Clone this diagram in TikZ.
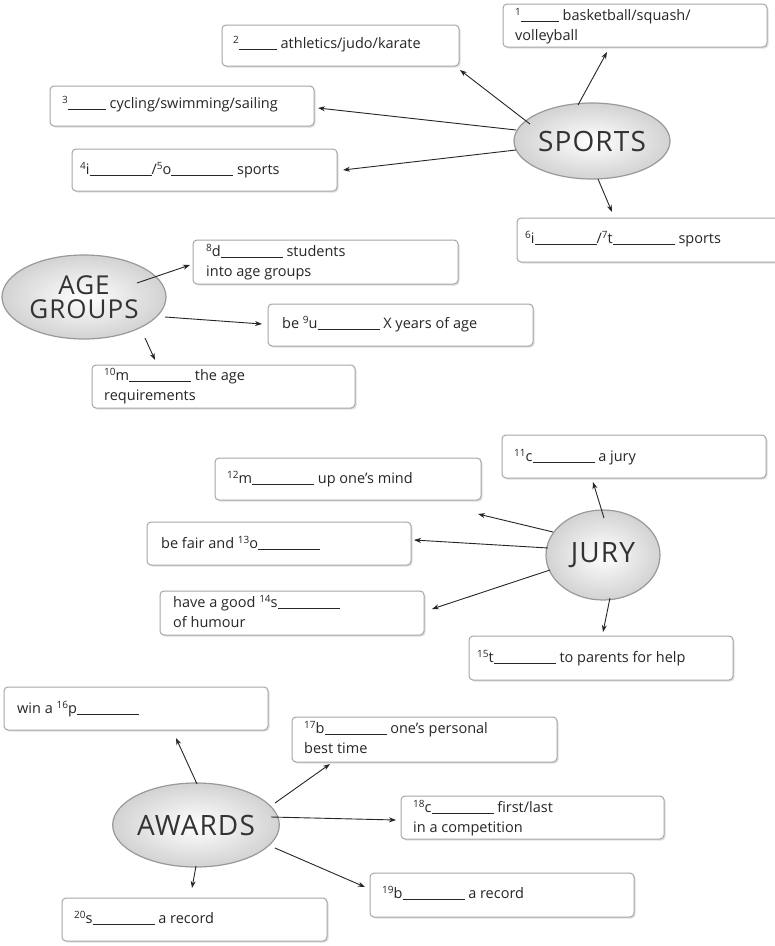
\documentclass[tikz,border=0pt]{standalone}
\usepackage{fontspec}
\setmainfont{Open Sans}
\usetikzlibrary{shadows,arrows.meta,shapes.geometric}
\newcommand{\bl}[1]{\rule[-1pt]{#1pt}{0.6pt}}
\newcommand{\sq}[1]{\raisebox{5pt}{\fontsize{10}{10}\selectfont #1}}
\begin{document}
\begin{tikzpicture}[x=1pt,y=-1pt,
  box/.style={draw=gray!70,line width=1pt,rounded corners=4pt,fill=white,drop shadow={shadow xshift=1.5pt,shadow yshift=-1.5pt,opacity=0.25}},
  txt/.style={anchor=north west,align=left,font=\fontsize{14.5}{20.5}\selectfont,inner sep=0pt,text=black!85},
  ell/.style={draw=gray!80,line width=1.2pt,ellipse,inner sep=0pt,outer color=gray!35,inner color=white,font=\fontsize{28}{28}\selectfont\addfontfeature{LetterSpace=4},text=black!80,align=center},
  arr/.style={-{Stealth[length=7pt,width=5pt]},line width=0.9pt,black!85}]
\useasboundingbox (0,0) rectangle (775,946);
\fill[white] (0,0) rectangle (775,946);
% boxes
\draw[box] (503,4) rectangle (767,47);
\node[txt] (t1) at (515,8) {\sq{1}\bl{38} basketball/squash/\\volleyball};
\draw[box] (222,25) rectangle (459,66);
\node[txt] (t2) at (233,36) {\sq{2}\bl{38} athletics/judo/karate};
\draw[box] (50,86) rectangle (314,126);
\node[txt] (t3) at (62,96) {\sq{3}\bl{38} cycling/swimming/sailing};
\draw[box] (72,149) rectangle (337,191);
\node[txt] (t4) at (80,162) {\sq{4}i\bl{62}/\sq{5}o\bl{62} sports};
\draw[box] (517,218) rectangle (782,262);
\node[txt] (t6) at (525,231) {\sq{6}i\bl{62}/\sq{7}t\bl{62} sports};
\draw[box] (193,240) rectangle (458,284);
\node[txt] (t8) at (206,244) {\sq{8}d\bl{62} students\\into age groups};
\draw[box] (268,304) rectangle (533,346);
\node[txt] (t9) at (282,316) {be \sq{9}u\bl{62} X years of age};
\draw[box] (92,365) rectangle (355,408);
\node[txt] (t10) at (104,368) {\sq{10}m\bl{62} the age\\requirements};
\draw[box] (502,435) rectangle (766,478);
\node[txt] (t11) at (514,449) {\sq{11}c\bl{62} a jury};
\draw[box] (215,458) rectangle (481,500);
\node[txt] (t12) at (227,471) {\sq{12}m\bl{62} up one’s mind};
\draw[box] (147,522) rectangle (411,565);
\node[txt] (t13) at (161,536) {be fair and \sq{13}o\bl{62}};
\draw[box] (160,591) rectangle (424,635);
\node[txt] (t14) at (173,595) {have a good \sq{14}s\bl{62}\\of humour};
\draw[box] (469,636) rectangle (733,680);
\node[txt] (t15) at (477,650) {\sq{15}t\bl{62} to parents for help};
\draw[box] (4,687) rectangle (268,730);
\node[txt] (t16) at (17,701) {win a \sq{16}p\bl{62}};
\draw[box] (292,717) rectangle (557,762);
\node[txt] (t17) at (304,721) {\sq{17}b\bl{62} one’s personal\\best time};
\draw[box] (401,796) rectangle (664,839);
\node[txt] (t18) at (413,800) {\sq{18}c\bl{62} first/last\\in a competition};
\draw[box] (370,873) rectangle (634,917);
\node[txt] (t19) at (382,886) {\sq{19}b\bl{62} a record};
\draw[box] (62,898) rectangle (327,941);
\node[txt] (t20) at (74,911) {\sq{20}s\bl{62} a record};
% ellipses
\node[ell,minimum width=156pt,minimum height=76pt] (sp) at (592,141) {SPORTS};
\node[ell,minimum width=164pt,minimum height=84pt,font=\fontsize{26}{28}\selectfont\addfontfeature{LetterSpace=4}] (ag) at (84,297) {AGE\\[-4pt]GROUPS};
\node[ell,minimum width=114pt,minimum height=90pt] (ju) at (603,555) {JURY};
\node[ell,minimum width=150pt,minimum height=84pt] (aw) at (196,825) {AWARDS};
% arrow end coordinates
\foreach \n/\x/\y in {a1/607/52,a2/460/70,a3/318/108,a4/343/170,a6/612/212,
  b8/190/265,b9/262/324,b10/155/360,
  c11/593/482,c12/478/514,c13/414/540,c14/432/609,c15/603/632,
  d16/176/738,d17/330/764,d18/396/820,d19/365/887,d20/192/888}
  \coordinate (\n) at (\x,\y);
\draw[arr] (578,105) -- (a1);
\draw[arr] (530,124) -- (a2);
\draw[arr] (516,130) -- (a3);
\draw[arr] (516,150) -- (a4);
\draw[arr] (598,179) -- (a6);
\draw[arr] (137,283) -- (b8);
\draw[arr] (165,317) -- (b9);
\draw[arr] (145,338) -- (b10);
\draw[arr] (604,518) -- (c11);
\draw[arr] (553,532) -- (c12);
\draw[arr] (548,548) -- (c13);
\draw[arr] (550,570) -- (c14);
\draw[arr] (610,598) -- (c15);
\draw[arr] (197,784) -- (d16);
\draw[arr] (275,803) -- (d17);
\draw[arr] (271,817) -- (d18);
\draw[arr] (275,848) -- (d19);
\draw[arr] (196,866) -- (d20);
\end{tikzpicture}
\end{document}
